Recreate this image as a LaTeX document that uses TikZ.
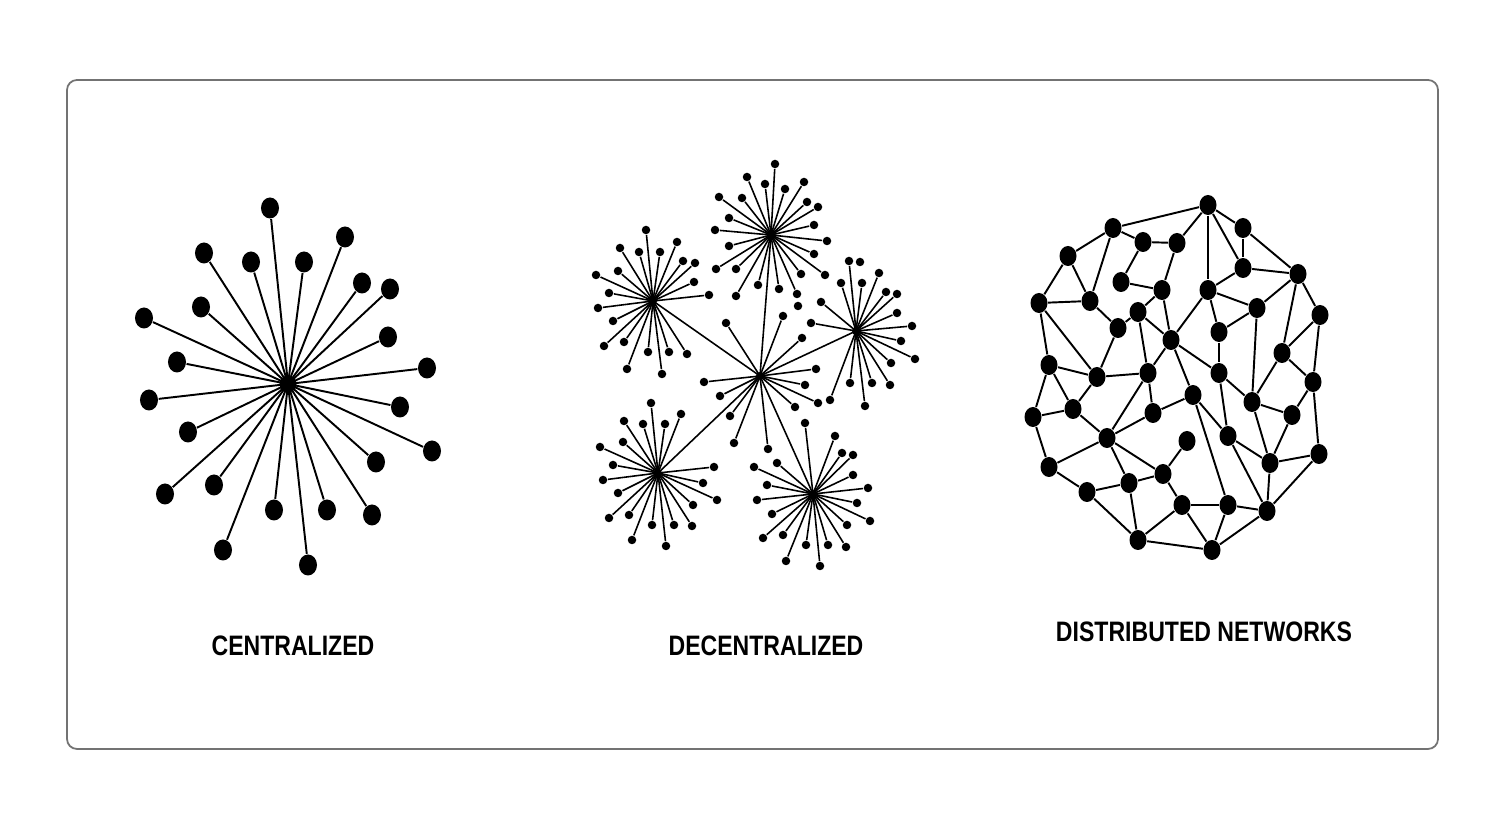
\documentclass[tikz,border=0pt]{standalone}
\usepackage{fontspec}
\newfontfamily\capfont[FakeStretch=0.82]{Liberation Sans}
\usetikzlibrary{shapes.geometric}
\tikzset{
  bigdot/.style={ellipse,fill,inner sep=0pt,minimum width=1.8mm,minimum height=2.1mm},
  hubdot/.style={circle,fill,inner sep=0pt,minimum size=1.7mm},
  leaf/.style={circle,fill,inner sep=0pt,minimum size=0.85mm},
  core/.style={circle,fill,inner sep=0pt,minimum size=0.8mm},
  peer/.style={ellipse,fill,inner sep=0pt,minimum width=1.7mm,minimum height=2mm},
  spoke/.style={line width=0.55pt},
  twig/.style={line width=0.45pt},
  link/.style={line width=0.55pt},
  caption/.style={font={\fontsize{8}{9}\selectfont\capfont\bfseries},inner sep=0pt}
}
\begin{document}
\begin{tikzpicture}[x=0.01cm,y=-0.01cm]
\useasboundingbox (0,0) rectangle (1502,831);
\draw[black!55,line width=0.5pt,rounded corners=1mm] (67,80) rectangle (1438,749);

% centralized
\node[hubdot] (c0) at (288,384) {};
\foreach \x/\y [count=\i] in {270/208,345/237,204/253,251/262,304/262,362/283,390/289,201/307,
  144/318,388/337,177/362,427/368,149/400,400/407,188/432,432/451,376/462,165/494,214/485,
  274/510,327/510,372/515,223/550,308/565}
  {\node[bigdot] (c\i) at (\x,\y) {}; \draw[spoke] (c0.center) -- (c\i);}

% decentralized
\node[core] (hmid) at (760,376) {};
\node[core] (hnw) at (653,301) {};
\node[core] (hn) at (771,235) {};
\node[core] (he) at (856,331) {};
\node[core] (hsw) at (658,473) {};
\node[core] (hse) at (813,494) {};
\draw[twig] (hmid.center)--(hnw.center) (hmid.center)--(hn.center) (hmid.center)--(he.center)
  (hmid.center)--(hsw.center) (hmid.center)--(hse.center);
\foreach \x/\y [count=\i] in {726/323,783/316,802/338,816/369,704/382,805/385,720/396,818/403,
  795/407,730/416,734/443,768/449}
  {\node[leaf] (mid\i) at (\x,\y) {}; \draw[twig] (hmid.center) -- (mid\i);}
\foreach \x/\y [count=\i] in {646/230,677/242,620/248,639/252,660/252,683/261,695/263,618/271,
  596/275,694/282,609/293,709/295,598/308,613/321,604/346,624/342,648/352,669/352,687/354,
  627/369,662/374}
  {\node[leaf] (nw\i) at (\x,\y) {}; \draw[twig] (hnw.center) -- (nw\i);}
\foreach \x/\y [count=\i] in {775/164,747/177,765/184,785/189,804/182,719/197,742/198,807/202,
  818/207,729/218,814/225,715/230,827/241,729/246,814/254,716/269,736/269,801/274,825/275,
  758/285,779/289,797/294,736/296}
  {\node[leaf] (n\i) at (\x,\y) {}; \draw[twig] (hn.center) -- (n\i);}
\foreach \x/\y [count=\i] in {849/261,879/273,841/283,862/283,886/292,897/294,821/302,897/313,
  811/323,912/326,901/341,915/359,891/363,850/383,872/383,890/385,830/400,865/406}
  {\node[leaf] (e\i) at (\x,\y) {}; \draw[twig] (he.center) -- (e\i);}
\foreach \x/\y [count=\i] in {651/403,681/414,624/421,643/424,665/424,623/442,600/447,613/465,
  714/467,603/480,703/483,618/493,717/500,693/505,609/518,629/515,652/525,674/525,692/526,
  632/540,666/546}
  {\node[leaf] (sw\i) at (\x,\y) {}; \draw[twig] (hsw.center) -- (sw\i);}
\foreach \x/\y [count=\i] in {805/423,835/436,842/453,853/455,777/463,754/467,853/475,767/485,
  868/488,757/500,857/503,772/514,870/521,847/525,763/538,783/535,806/545,828/545,846/547,
  786/561,820/566}
  {\node[leaf] (se\i) at (\x,\y) {}; \draw[twig] (hse.center) -- (se\i);}
\node[leaf] (lone1) at (798,306) {};
\node[leaf] (lone2) at (860,262) {};

% distributed
\foreach \n/\x/\y in {A/1208/205,B/1113/228,C/1243/228,D/1143/242,E/1177/243,F/1068/256,
  G/1243/268,H/1298/274,I/1121/282,J/1162/290,K/1208/290,L/1039/303,M/1090/301,N/1138/312,
  O/1257/308,P/1320/315,Q/1118/328,R/1171/340,S/1219/332,T/1282/353,U/1049/365,V/1097/377,
  W/1148/373,X/1219/373,Y/1313/382,Z/1193/395,a/1073/409,b/1153/413,c/1252/402,d/1292/415,
  e/1033/417,f/1107/438,g/1187/441,h/1228/436,i/1270/463,j/1319/454,k/1049/467,l/1163/474,
  m/1129/483,n/1087/492,o/1182/505,p/1228/505,q/1267/511,r/1138/540,s/1212/550}
  \node[peer] (d\n) at (\x,\y) {};
\foreach \a/\b in {A/B,A/E,A/K,A/C,A/G,C/G,C/H,G/H,G/K,B/D,D/E,B/F,B/M,D/I,I/J,E/J,F/L,F/M,
  L/M,M/Q,Q/N,N/J,N/R,J/R,R/K,K/S,K/O,S/O,H/O,H/T,H/P,P/T,O/c,S/X,T/c,T/Y,P/Y,Y/d,Y/j,c/d,
  c/i,d/i,i/j,i/q,j/q,X/c,X/h,R/X,R/Z,Z/h,Z/p,Z/b,h/i,h/q,L/U,L/V,Q/V,U/V,V/W,W/N,W/R,W/b,
  W/f,U/a,U/e,V/a,a/e,a/f,e/k,k/f,k/n,n/m,f/b,f/m,f/l,m/l,g/l,l/o,m/r,n/r,o/r,o/p,o/s,
  p/s,p/q,q/s,r/s}
  \draw[link] (d\a) -- (d\b);

\node[caption] (lcen) at (293,646) {CENTRALIZED};
\node[caption] (ldec) at (766,646) {DECENTRALIZED};
\node[caption] (ldis) at (1204,632) {DISTRIBUTED NETWORKS};
\end{tikzpicture}
\end{document}
